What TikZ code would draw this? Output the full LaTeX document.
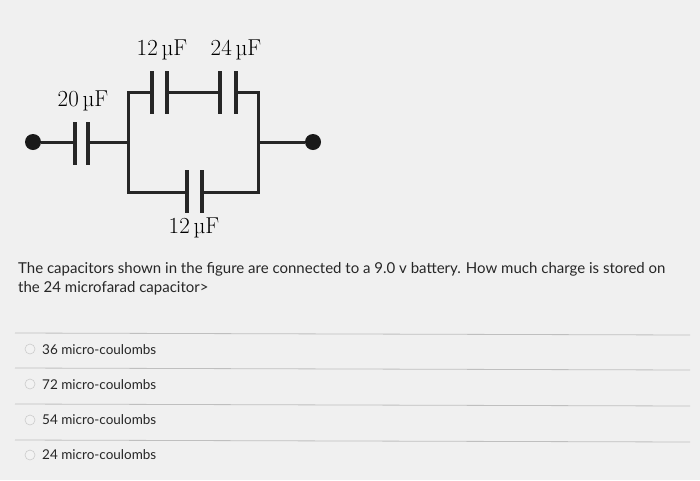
\documentclass[tikz,border=0pt]{standalone}
\usepackage{fontspec}
\setmainfont{Latin Modern Roman}
\newfontfamily\lato{Lato}
\begin{document}
\begin{tikzpicture}[x=1pt,y=-1pt,
  wire/.style={line width=3pt,black!85},
  plate/.style={line width=3.4pt,black!85},
  term/.style={circle,fill=black!90,inner sep=0pt,minimum size=16pt},
  clab/.style={font=\fontsize{23}{26}\selectfont,inner sep=0pt},
  qtext/.style={font=\lato\fontsize{15}{18}\selectfont,text=black!85,inner sep=0pt,anchor=west},
  otext/.style={font=\lato\fontsize{13.5}{16}\selectfont,text=black!85,inner sep=0pt,anchor=west},
  sep/.style={line width=0.8pt,black!25},
  radio/.style={circle,draw=black!20,fill=black!5,line width=0.6pt,minimum size=10pt,inner sep=0pt}]
\fill[black!6] (0,0) rectangle (700,480);
\useasboundingbox (0,0) rectangle (700,480);
% terminals and junctions
\node[term] (L) at (33,142) {};
\node[term] (R) at (313,142) {};
\coordinate (JL) at (128,142);
\coordinate (JR) at (258,142);
\coordinate (TL) at (128,92);
\coordinate (TR) at (258,92);
\coordinate (BL) at (128,192);
\coordinate (BR) at (258,192);
% 20uF
\coordinate (a1) at (75,142); \coordinate (a2) at (88,142);
\draw[wire] (L) -- (a1); \draw[wire] (a2) -- (JL);
\draw[plate] (75,122) -- (75,165); \draw[plate] (88,122) -- (88,165);
% branches
\draw[wire,line cap=rect] (TL) -- (BL); \draw[wire,line cap=rect] (TR) -- (BR); \draw[wire] (JR) -- (R);
\coordinate (b1) at (152,92); \coordinate (b2) at (167,92);
\coordinate (c1) at (220,92); \coordinate (c2) at (236,92);
\draw[wire] (TL) -- (b1); \draw[wire] (b2) -- (c1); \draw[wire] (c2) -- (TR);
\draw[plate] (152,71) -- (152,114); \draw[plate] (167,71) -- (167,114);
\draw[plate] (220,71) -- (220,114); \draw[plate] (236,71) -- (236,114);
\coordinate (d1) at (187,192); \coordinate (d2) at (202,192);
\draw[wire] (BL) -- (d1); \draw[wire] (d2) -- (BR);
\draw[plate] (187,170) -- (187,213); \draw[plate] (202,170) -- (202,213);
% labels
\node[clab] (l1) at (162,50) {12\,µF};
\node[clab] (l2) at (236,50) {24\,µF};
\node[clab] (l3) at (83,101) {20\,µF};
\node[clab] (l4) at (194,228) {12\,µF};
% question
\node[qtext] (q1) at (18,269) {The capacitors shown in the figure are connected to a 9.0 v battery. How much charge is stored on};
\node[qtext] (q2) at (18,288) {the 24 microfarad capacitor>};
\draw[sep] (15,333) -- (690,335);
\draw[sep] (15,368) -- (690,370);
\draw[sep] (15,404) -- (690,406);
\draw[sep] (15,440) -- (690,442);
\node[radio] (r1) at (30,349) {}; \node[otext] (o1) at (42,350) {36 micro-coulombs};
\node[radio] (r2) at (30,384) {}; \node[otext] (o2) at (42,385) {72 micro-coulombs};
\node[radio] (r3) at (30,420) {}; \node[otext] (o3) at (42,420) {54 micro-coulombs};
\node[radio] (r4) at (30,455) {}; \node[otext] (o4) at (42,455) {24 micro-coulombs};
\end{tikzpicture}
\end{document}
